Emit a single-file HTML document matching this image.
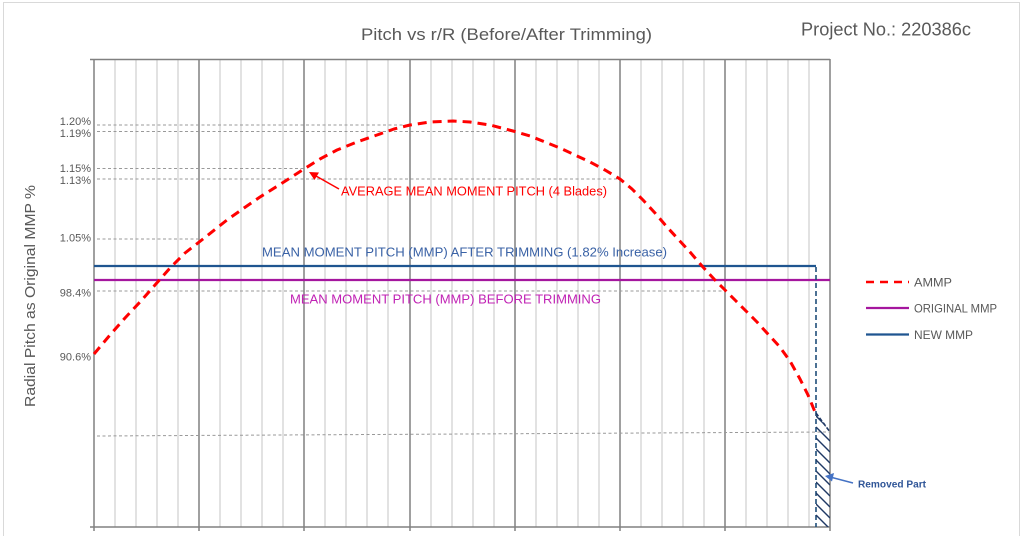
<!DOCTYPE html>
<html><head><meta charset="utf-8"><style>
html,body{margin:0;padding:0;background:#fff;}
svg{display:block;}
text{font-family:"Liberation Sans",sans-serif;}
</style></head><body>
<svg width="1024" height="536" viewBox="0 0 1024 536" xmlns="http://www.w3.org/2000/svg">
<rect x="3.5" y="2.5" width="1016" height="540" fill="#fff" stroke="#d9d9d9" stroke-width="1"/>
<!-- minor grid -->
<g stroke="#d9d9d9" stroke-width="1.5">
<line x1="115" y1="59" x2="115" y2="527"/><line x1="136" y1="59" x2="136" y2="527"/><line x1="157" y1="59" x2="157" y2="527"/><line x1="178" y1="59" x2="178" y2="527"/>
<line x1="220" y1="59" x2="220" y2="527"/><line x1="241" y1="59" x2="241" y2="527"/><line x1="262" y1="59" x2="262" y2="527"/><line x1="283" y1="59" x2="283" y2="527"/>
<line x1="325" y1="59" x2="325" y2="527"/><line x1="346" y1="59" x2="346" y2="527"/><line x1="367" y1="59" x2="367" y2="527"/><line x1="388" y1="59" x2="388" y2="527"/>
<line x1="431" y1="59" x2="431" y2="527"/><line x1="452" y1="59" x2="452" y2="527"/><line x1="473" y1="59" x2="473" y2="527"/><line x1="494" y1="59" x2="494" y2="527"/>
<line x1="536" y1="59" x2="536" y2="527"/><line x1="557" y1="59" x2="557" y2="527"/><line x1="578" y1="59" x2="578" y2="527"/><line x1="599" y1="59" x2="599" y2="527"/>
<line x1="641" y1="59" x2="641" y2="527"/><line x1="662" y1="59" x2="662" y2="527"/><line x1="683" y1="59" x2="683" y2="527"/><line x1="704" y1="59" x2="704" y2="527"/>
<line x1="746" y1="59" x2="746" y2="527"/><line x1="767" y1="59" x2="767" y2="527"/><line x1="788" y1="59" x2="788" y2="527"/><line x1="809" y1="59" x2="809" y2="527"/>
</g>
<!-- major grid -->
<g stroke="#808080" stroke-width="1.5">
<line x1="94" y1="59" x2="94" y2="531"/><line x1="199" y1="59" x2="199" y2="531"/><line x1="304" y1="59" x2="304" y2="531"/><line x1="410" y1="59" x2="410" y2="531"/>
<line x1="515" y1="59" x2="515" y2="531"/><line x1="620" y1="59" x2="620" y2="531"/><line x1="725" y1="59" x2="725" y2="531"/><line x1="830" y1="59" x2="830" y2="531"/>
<line x1="90" y1="59.5" x2="830" y2="59.5"/>
<line x1="90" y1="527" x2="830" y2="527"/>
</g>
<!-- dashed reference lines -->
<g stroke="#999" stroke-width="1" stroke-dasharray="3,2.5" fill="none">
<line x1="97" y1="125" x2="410" y2="125"/>
<line x1="97" y1="131.5" x2="513" y2="131.5"/>
<line x1="97" y1="168.5" x2="304" y2="168.5"/>
<line x1="97" y1="179" x2="620" y2="179"/>
<line x1="97" y1="239" x2="202" y2="239"/>
<line x1="97" y1="291" x2="725" y2="291"/>
<line x1="97" y1="436" x2="830" y2="432"/>
</g>
<!-- tick labels -->
<g fill="#595959" font-size="11" text-anchor="end">
<text x="91" y="125">1.20%</text>
<text x="91" y="137">1.19%</text>
<text x="91" y="172">1.15%</text>
<text x="91" y="184">1.13%</text>
<text x="91" y="241.5">1.05%</text>
<text x="91" y="296.5">98.4%</text>
<text x="91" y="360.5">90.6%</text>
</g>
<!-- axis title -->
<text transform="translate(35,296) rotate(-90)" text-anchor="middle" fill="#595959" font-size="15" textLength="222" lengthAdjust="spacingAndGlyphs">Radial Pitch as Original MMP %</text>
<!-- chart title -->
<text x="361" y="40" fill="#595959" font-size="17" textLength="291" lengthAdjust="spacingAndGlyphs">Pitch vs r/R (Before/After Trimming)</text>
<text x="801" y="35.5" fill="#595959" font-size="18" textLength="170" lengthAdjust="spacingAndGlyphs">Project No.: 220386c</text>
<!-- MMP lines -->
<line x1="94" y1="280" x2="830" y2="280" stroke="#a5169e" stroke-width="2.2"/>
<line x1="94" y1="266" x2="816" y2="266" stroke="#1f5590" stroke-width="2.2"/>
<line x1="816" y1="267" x2="816" y2="527" stroke="#1f4e79" stroke-width="1.6" stroke-dasharray="5,3"/>
<!-- hatched removed part -->
<clipPath id="hc"><polygon points="816,413 830,432 830,527 816,527"/></clipPath>
<g clip-path="url(#hc)" stroke="#1f3864" stroke-width="1.4">
<line x1="816" y1="416" x2="830" y2="430"/>
<line x1="816" y1="427" x2="830" y2="441"/>
<line x1="816" y1="438" x2="830" y2="452"/>
<line x1="816" y1="449" x2="830" y2="463"/>
<line x1="816" y1="460" x2="830" y2="474"/>
<line x1="816" y1="471" x2="830" y2="485"/>
<line x1="816" y1="482" x2="830" y2="496"/>
<line x1="816" y1="493" x2="830" y2="507"/>
<line x1="816" y1="504" x2="830" y2="518"/>
<line x1="816" y1="515" x2="830" y2="529"/>
</g>
<line x1="816" y1="413" x2="830" y2="432" stroke="#1f3864" stroke-width="1.6" stroke-dasharray="4,2"/>
<!-- AMMP curve -->
<polyline fill="none" stroke="#ff0000" stroke-width="3" stroke-dasharray="9,6" stroke-linejoin="round"
points="94,354 110,335 125,318 140,302 155,285 170,268 185,253 203,239 227,220 244,208 260,197 287,180 304,169 320,159 337,150 357,142 377,135 394,129 410,125 430,122 453,121 470,122 490,125 513,131 530,136 545,142 560,148 575,155 590,162 605,170 620,179 632,189 643,200 655,213 667,227 678,239 690,252 702,266 714,279 725,290 736,301 747,312 757,322 767,333 779,346 790,361 800,379 808,395 815,412"/>
<!-- annotations -->
<line x1="339" y1="189" x2="316" y2="176" stroke="#ff0000" stroke-width="1.5"/>
<polygon points="309,172 319,172.5 314.5,180" fill="#ff0000"/>
<text x="341" y="195.5" fill="#ff0000" font-size="12.5" textLength="266" lengthAdjust="spacingAndGlyphs">AVERAGE MEAN MOMENT PITCH (4 Blades)</text>
<text x="262" y="256.5" fill="#3a62a6" font-size="12.5" textLength="405" lengthAdjust="spacingAndGlyphs">MEAN MOMENT PITCH (MMP) AFTER TRIMMING (1.82% Increase)</text>
<text x="290" y="303.5" fill="#c022b4" font-size="12.5" textLength="311" lengthAdjust="spacingAndGlyphs">MEAN MOMENT PITCH (MMP) BEFORE TRIMMING</text>
<!-- removed part -->
<line x1="853" y1="483" x2="832" y2="477.5" stroke="#4472c4" stroke-width="1.5"/>
<polygon points="825,476 834,473 832,481.5" fill="#4472c4"/>
<text x="858" y="487.5" fill="#2f5597" font-size="10" font-weight="bold" textLength="68" lengthAdjust="spacingAndGlyphs">Removed Part</text>
<!-- legend -->
<line x1="866" y1="282" x2="909" y2="282" stroke="#ff0000" stroke-width="2.5" stroke-dasharray="8,6"/>
<line x1="866" y1="308" x2="909" y2="308" stroke="#a5169e" stroke-width="2.2"/>
<line x1="866" y1="334.5" x2="909" y2="334.5" stroke="#1f5590" stroke-width="2.2"/>
<g fill="#595959" font-size="12">
<text x="914" y="286.5" textLength="38" lengthAdjust="spacingAndGlyphs">AMMP</text>
<text x="914" y="312.5" textLength="83" lengthAdjust="spacingAndGlyphs">ORIGINAL MMP</text>
<text x="914" y="339" textLength="59" lengthAdjust="spacingAndGlyphs">NEW MMP</text>
</g>
</svg>
</body></html>
